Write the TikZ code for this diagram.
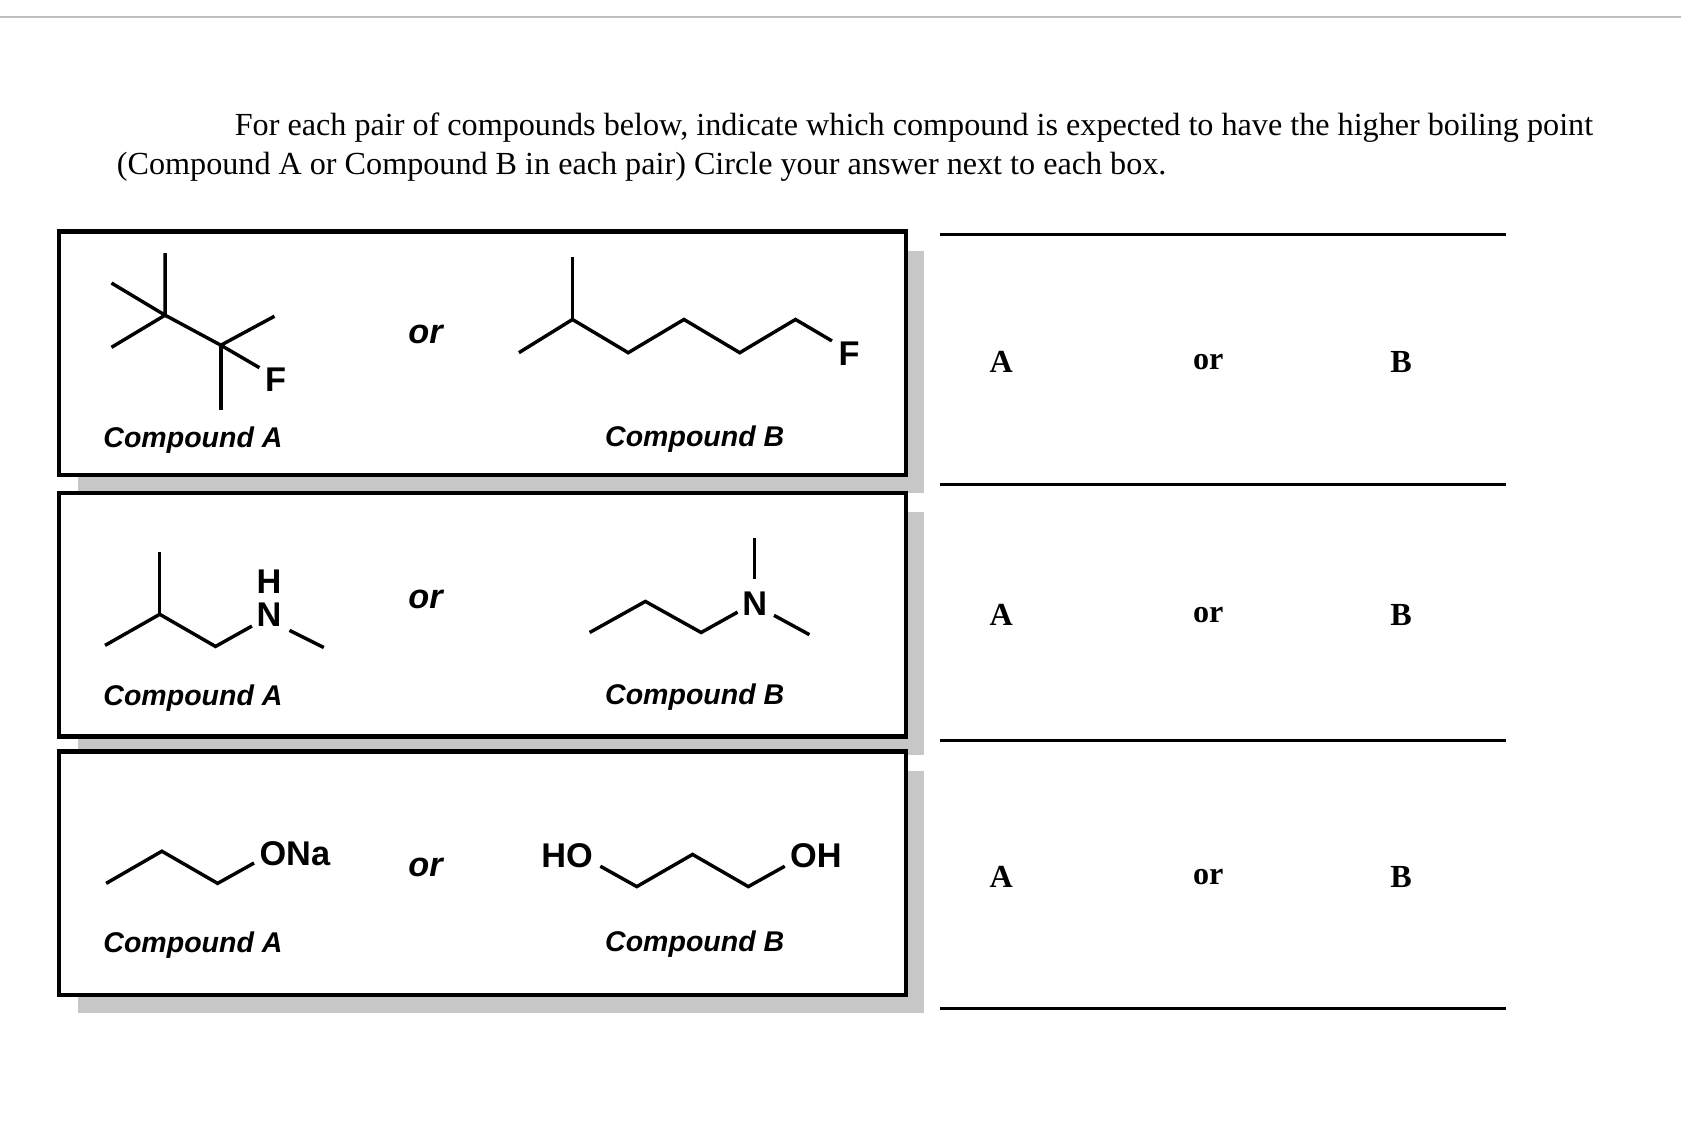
\documentclass[tikz,border=0pt]{standalone}
\usepackage{fontspec}
\setmainfont{Liberation Serif}
\setsansfont{Liberation Sans}
\begin{document}
\begin{tikzpicture}[x=0.5pt,y=-0.5pt,
  bond/.style={line width=1.6pt},
  box/.style={line width=2pt},
  shadow/.style={fill=black!22,draw=none},
  atom/.style={font=\sffamily\bfseries\fontsize{16}{16}\selectfont,inner sep=0pt},
  lbl/.style={font=\sffamily\bfseries\itshape\fontsize{13.3}{13.3}\selectfont},
  orl/.style={font=\sffamily\bfseries\itshape\fontsize{16}{16}\selectfont},
  ans/.style={font=\bfseries\fontsize{15}{15}\selectfont},
  rule/.style={line width=1.5pt}]
\useasboundingbox (0,0) rectangle (1568,1068);
\draw[black!25,line width=1.2pt] (0,16) -- (1568,16);
\node[anchor=west,font=\fontsize{15}{15}\selectfont] (h1) at (212,119) {For each pair of compounds below, indicate which compound is expected to have the higher boiling point};
\node[anchor=west,font=\fontsize{15}{15}\selectfont] (h2) at (102,156) {(Compound A or Compound B in each pair) Circle your answer next to each box.};
% boxes
\foreach \t/\b in {216/443,460/687,701/928}{
  \fill[shadow] (73,\t+18) rectangle (862,\b+17);
  \draw[box,fill=white] (55,\t) rectangle (845,\b);
}
% rules
\foreach \y in {219,452,691,941} \draw[rule] (877,\y) -- (1405,\y);
\foreach \y/\n in {338/1,574/2,818/3}{
  \node[ans] (a\n) at (934,\y) {A};
  \node[ans] (o\n) at (1127,\y) {or};
  \node[ans] (b\n) at (1307,\y) {B};
}
% labels
\foreach \y/\n/\yo in {411/1/312,651/2/559,882/3/809}{
  \node[lbl] (ca\n) at (180,\y) {Compound A};
  \node[lbl] (cb\n) at (648,\y-1) {Compound B};
  \node[orl] (or\n) at (397,\yo) {or};
}
% 1A
\draw[bond] (154,236) -- (154,294) -- (104,264);
\draw[bond] (104,324) -- (154,294) -- (206,322) -- (256,295);
\draw[bond] (206,322) -- (206,382);
\node[atom] (f1) at (257,354) {F};
\draw[bond] (206,322) -- (242,343);
% 1B
\draw[bond] (484,329)--(534,298)--(586,329)--(638,298)--(690,329)--(742,298)--(776,318);
\draw[bond] (534,298)--(534,240);
\node[atom] (f2) at (792,330) {F};
% 2A
\draw[bond] (98,602)--(149,573)--(201,603)--(235,584);
\draw[bond] (149,573)--(149,515);
\node[atom] (n1) at (251,573) {N};
\node[atom] (hh) at (251,543) {H};
\draw[bond] (270,588)--(302,604);
% 2B
\draw[bond] (550,590)--(602,561)--(654,590)--(688,571);
\node[atom] (n2) at (704,563) {N};
\draw[bond] (704,502)--(704,540);
\draw[bond] (722,574)--(755,592);
% 3A
\draw[bond] (99,824)--(151,794)--(203,824)--(237,805);
\node[atom] (ona) at (275,796) {ONa};
% 3B
\node[atom] (ho) at (529,798) {HO};
\draw[bond] (560,808)--(594,827)--(646,797)--(698,827)--(732,808);
\node[atom] (oh) at (761,798) {OH};
\end{tikzpicture}
\end{document}
